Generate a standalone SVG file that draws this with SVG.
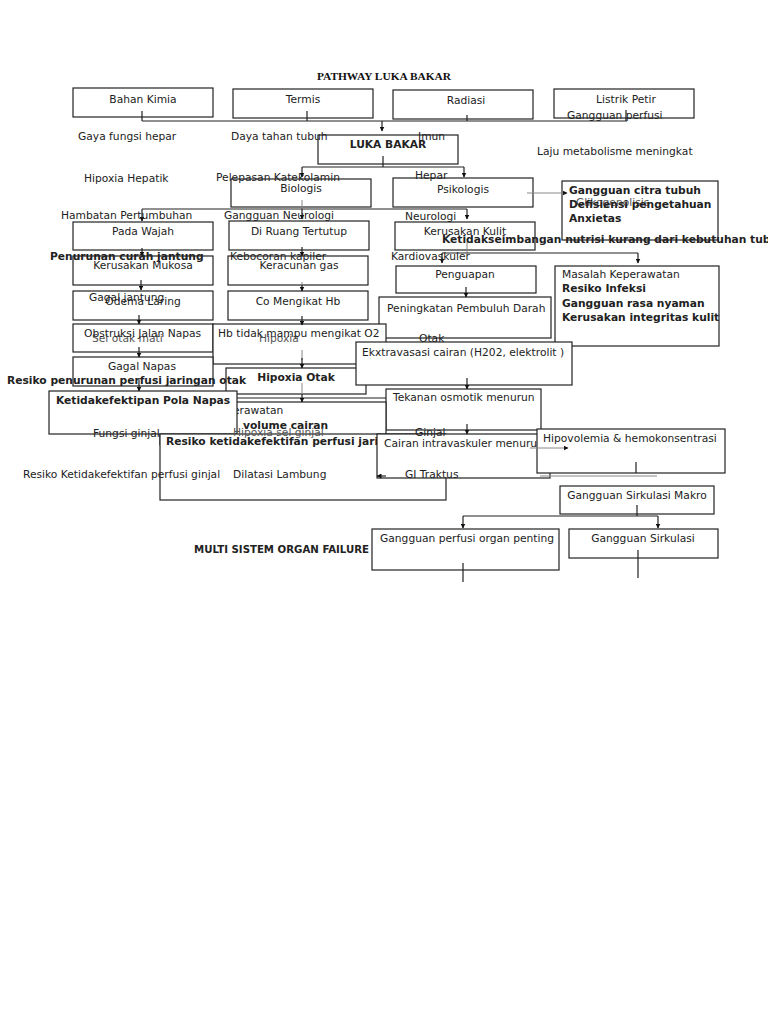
<svg xmlns="http://www.w3.org/2000/svg" width="768" height="1024" viewBox="0 0 768 1024">
<style>
text{font-family:"DejaVu Sans","Liberation Sans",sans-serif;font-size:10.7px;fill:#222}
.b{font-weight:bold}
.c{text-anchor:middle}
.t{font-family:"Liberation Serif","DejaVu Serif",serif;font-weight:bold;font-size:11.4px;text-anchor:middle;fill:#111}
.g{fill:#555}
rect{fill:#fff;stroke:#222;stroke-width:1.2}
.n{fill:none}
.k{fill:none;stroke:#222;stroke-width:1.2}
.gl{fill:none;stroke:#888;stroke-width:1}
.a{marker-end:url(#ah)}
</style>
<defs>
<marker id="ah" viewBox="0 0 10 10" refX="9" refY="5" markerWidth="5" markerHeight="5" orient="auto" markerUnits="userSpaceOnUse">
<path d="M0,0 L10,5 L0,10 z" fill="#111"/>
</marker>
</defs>
<rect width="768" height="1024" style="fill:#fff;stroke:none"/>
<text class="t" x="384" y="80">PATHWAY LUKA BAKAR</text>

<g id="nodes">
<g id="n-bahan"><rect x="73" y="88" width="140" height="29"/><text class="c" x="143" y="103">Bahan Kimia</text></g>
<g id="n-termis"><rect x="233" y="89" width="140" height="29"/><text class="c" x="303" y="103">Termis</text></g>
<g id="n-radiasi"><rect x="393" y="90" width="140" height="29"/><text class="c" x="466" y="104">Radiasi</text></g>
<g id="n-listrik"><rect x="554" y="89" width="140" height="29"/><text class="c" x="626" y="103">Listrik Petir</text></g>
<g id="n-luka"><rect x="318" y="135" width="140" height="29"/><text class="c b" x="388" y="148">LUKA BAKAR</text></g>
<g id="n-biologis"><rect x="231" y="179" width="140" height="28"/><text class="c" x="301" y="192">Biologis</text></g>
<g id="n-psikologis"><rect x="393" y="178" width="140" height="29"/><text class="c" x="463" y="193">Psikologis</text></g>
<g id="n-citra"><rect class="n" x="562" y="181" width="156" height="59"/><text class="g" x="576" y="206">Glikogenolisis</text><text class="b" x="569" y="194">Gangguan citra tubuh</text><text class="b" x="569" y="208">Defisiensi pengetahuan</text><text class="b" x="569" y="222">Anxietas</text></g>
<g id="n-wajah"><rect x="73" y="222" width="140" height="28"/><text class="c" x="143" y="235">Pada Wajah</text></g>
<g id="n-ruang"><rect x="229" y="221" width="140" height="29"/><text class="c" x="299" y="235">Di Ruang Tertutup</text></g>
<g id="n-kulit"><rect x="395" y="222" width="140" height="28"/><text class="c" x="465" y="235">Kerusakan Kulit</text></g>
<g id="n-mukosa"><rect x="73" y="256" width="140" height="29"/><text class="c" x="143" y="269">Kerusakan Mukosa</text></g>
<g id="n-gas"><rect x="228" y="256" width="140" height="29"/><text class="c" x="299" y="269">Keracunan gas</text></g>
<g id="n-penguapan"><rect x="396" y="266" width="140" height="27"/><text class="c" x="465" y="278">Penguapan</text></g>
<g id="n-masalah1"><rect x="555" y="266" width="164" height="80"/><text x="562" y="278">Masalah Keperawatan</text><text class="b" x="562" y="292">Resiko Infeksi</text><text class="b" x="562" y="307">Gangguan rasa nyaman</text><text class="b" x="562" y="321">Kerusakan integritas kulit</text></g>
<g id="n-laring"><rect x="73" y="291" width="140" height="29"/><text x="89" y="301">Gagal jantung</text><text class="c" x="143" y="305">Odema Laring</text></g>
<g id="n-cohb"><rect x="228" y="291" width="140" height="29"/><text class="c" x="298" y="305">Co Mengikat Hb</text></g>
<g id="n-pembuluh"><rect class="n" x="379" y="297" width="172" height="41"/><text x="387" y="312">Peningkatan Pembuluh Darah</text></g>
<g id="n-obstruksi"><rect class="n" x="73" y="324" width="140" height="28"/><text class="g" x="92" y="342">Sel otak mati</text><text x="84" y="337">Obstruksi Jalan Napas</text></g>
<g id="n-hb"><rect x="213" y="324" width="173" height="40"/><text class="g" x="259" y="342">Hipoxia</text><text x="218" y="337">Hb tidak mampu mengikat O2</text></g>
<g id="n-gagalnapas"><rect x="73" y="357" width="140" height="29"/><text class="c" x="142" y="370">Gagal Napas</text></g>
<g id="n-hipoxiaotak"><rect x="226" y="368" width="140" height="26"/><text class="c b" x="296" y="381">Hipoxia Otak</text></g>
<g id="n-ekstravasasi"><rect x="356" y="342" width="216" height="43"/><text x="362" y="356">Ekxtravasasi cairan (H202, elektrolit )</text></g>
<g id="n-tekanan"><rect x="386" y="389" width="155" height="41"/><text x="393" y="401">Tekanan osmotik menurun</text></g>
<g id="n-masalah2"><rect x="160" y="402" width="226" height="43"/><text x="233" y="414">erawatan</text><text class="b" x="243" y="429">volume cairan</text></g>
<g id="n-polanapas"><rect x="49" y="391" width="188" height="43"/><text class="b" x="56" y="404">Ketidakefektipan Pola Napas</text></g>
<g id="n-perfusi"><rect x="160" y="434" width="286" height="66"/><text class="g" x="233" y="436">Hipoxia sel ginjal</text><text class="b" x="166" y="445">Resiko ketidakefektifan perfusi jari</text></g>
<g id="n-cairan"><rect x="377" y="434" width="173" height="44"/><text x="384" y="447">Cairan intravaskuler menuru</text></g>
<g id="n-hipovolemia"><rect x="537" y="429" width="188" height="44"/><text x="543" y="442">Hipovolemia &amp; hemokonsentrasi</text></g>
<g id="n-makro"><rect x="560" y="486" width="154" height="28"/><text class="c" x="637" y="499">Gangguan Sirkulasi Makro</text></g>
<g id="n-organ"><rect x="372" y="529" width="187" height="41"/><text x="380" y="542">Gangguan perfusi organ penting</text></g>
<g id="n-sirkulasi"><rect x="569" y="529" width="149" height="29"/><text class="c" x="643" y="542">Gangguan Sirkulasi</text></g>
</g>

<g id="connectors">
<path class="k" d="M142,111 V121 M307,111 V121 M467,115 V121 M626,110 V121 M142,121 H627"/>
<path class="k a" d="M382,121 V131"/>
<path class="k" d="M383,156 V167 M302,167 H464"/>
<path class="k a" d="M302,167 V177"/>
<path class="k a" d="M464,167 V177"/>
<path class="gl" d="M302,200 V209"/>
<path class="k" d="M142,209 H467"/>
<path class="k a" d="M142,209 V221"/>
<path class="k a" d="M302,209 V219"/>
<path class="k a" d="M467,209 V219"/>
<path class="gl a" d="M527,193 H567"/>
<path class="k a" d="M142,248 V256"/>
<path class="k a" d="M141,280 V290"/>
<path class="k a" d="M139,315 V324"/>
<path class="k a" d="M139,347 V357"/>
<path class="k a" d="M139,380 V391"/>
<path class="k a" d="M302,247 V256"/>
<path class="gl" d="M302,282 V288"/>
<path class="k a" d="M302,285 V291"/>
<path class="k a" d="M302,316 V325"/>
<path class="gl" d="M302,350 V360"/>
<path class="k a" d="M302,358 V368"/>
<path class="gl" d="M302,383 V395"/>
<path class="k" d="M237,398 H386"/>
<path class="k a" d="M302,394 V402"/>
<path class="gl" d="M467,242 V253"/>
<path class="k" d="M442,253 H638"/>
<path class="k a" d="M442,253 V263"/>
<path class="k a" d="M638,253 V263"/>
<path class="k a" d="M466,287 V297"/>
<path class="k a" d="M467,378 V389"/>
<path class="k a" d="M467,424 V434"/>
<path class="k a" d="M386,476 H377"/>
<path class="gl a" d="M530,448 H568"/>
<path class="k" d="M636,462 V473"/>
<path class="gl" d="M540,476 H657"/>
<path class="k" d="M637,505 V516 M463,516 H658"/>
<path class="k a" d="M463,516 V528"/>
<path class="k a" d="M658,516 V528"/>
<path class="k" d="M463,563 V582 M638,550 V578"/>
</g>

<g id="labels">
<text x="567" y="119">Gangguan perfusi</text>
<text x="78" y="140">Gaya fungsi hepar</text>
<text x="231" y="140">Daya tahan tubuh</text>
<text x="418" y="140">Imun</text>
<text x="537" y="155">Laju metabolisme meningkat</text>
<text x="84" y="182">Hipoxia Hepatik</text>
<text x="216" y="181">Pelepasan Katekolamin</text>
<text x="415" y="179">Hepar</text>
<text x="61" y="219">Hambatan Pertumbuhan</text>
<text x="224" y="219">Gangguan Neurologi</text>
<text x="405" y="220">Neurologi</text>
<text class="b" x="442" y="243">Ketidakseimbangan nutrisi kurang dari kebutuhan tub</text>
<text class="b" x="50" y="260">Penurunan curah jantung</text>
<text x="230" y="260">Kebocoran kapiler</text>
<text x="391" y="260">Kardiovaskuler</text>
<text x="419" y="342">Otak</text>
<text class="b" x="7" y="384">Resiko penurunan perfusi jaringan otak</text>
<text x="93" y="437">Fungsi ginjal</text>
<text x="415" y="436">Ginjal</text>
<text x="23" y="478">Resiko Ketidakefektifan perfusi ginjal</text>
<text x="233" y="478">Dilatasi Lambung</text>
<text x="405" y="478">GI Traktus</text>
<text class="b" x="194" y="553" style="font-size:10.2px">MULTI SISTEM ORGAN FAILURE</text>
</g>
</svg>
